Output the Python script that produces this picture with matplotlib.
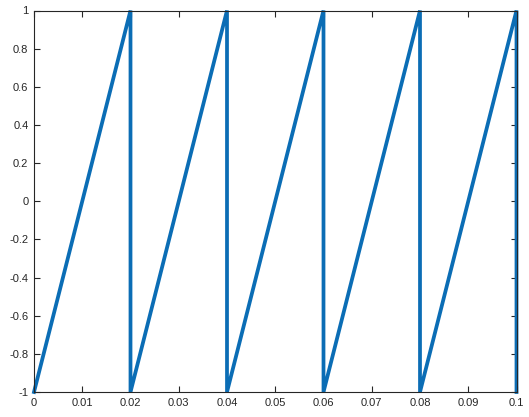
import matplotlib
matplotlib.use("Agg")
import matplotlib.pyplot as plt

# vertices of the sawtooth wave (time in s, amplitude)
t_pts = [0.0, 0.02, 0.02, 0.04, 0.04, 0.06, 0.06, 0.08, 0.08, 0.10, 0.10]
y_pts = [-1, 1, -1, 1, -1, 1, -1, 1, -1, 1, -1]

x_ticks = [0, 0.01, 0.02, 0.03, 0.04, 0.05, 0.06, 0.07, 0.08, 0.09, 0.1]
x_labels = ["0", "0.01", "0.02", "0.03", "0.04", "0.05", "0.06", "0.07", "0.08", "0.09", "0.1"]
y_ticks = [-1, -0.8, -0.6, -0.4, -0.2, 0, 0.2, 0.4, 0.6, 0.8, 1]
y_labels = ["-1", "-0.8", "-0.6", "-0.4", "-0.2", "0", "0.2", "0.4", "0.6", "0.8", "1"]

plt.rcParams['font.family'] = ['Liberation Sans', 'DejaVu Sans']

fig = plt.figure(figsize=(5.29, 4.17), dpi=100)
ax = fig.add_axes([34/529, 25/417, (516.5-34)/529, (392-10.5)/417])
ax.plot(t_pts, y_pts, color='#0b6db5', linewidth=2.7, solid_joinstyle='miter', clip_on=False)
ax.set_xlim(0, 0.1)
ax.set_ylim(-1, 1)
ax.set_xticks(x_ticks)
ax.set_xticklabels(x_labels)
ax.set_yticks(y_ticks)
ax.set_yticklabels(y_labels)
ax.tick_params(direction='in', length=4, width=0.8, labelsize=8, top=True, right=True, colors='#262626', pad=4)
for s in ax.spines.values():
    s.set_linewidth(0.8)
    s.set_color('#262626')
fig.savefig("out.png", dpi=100)
